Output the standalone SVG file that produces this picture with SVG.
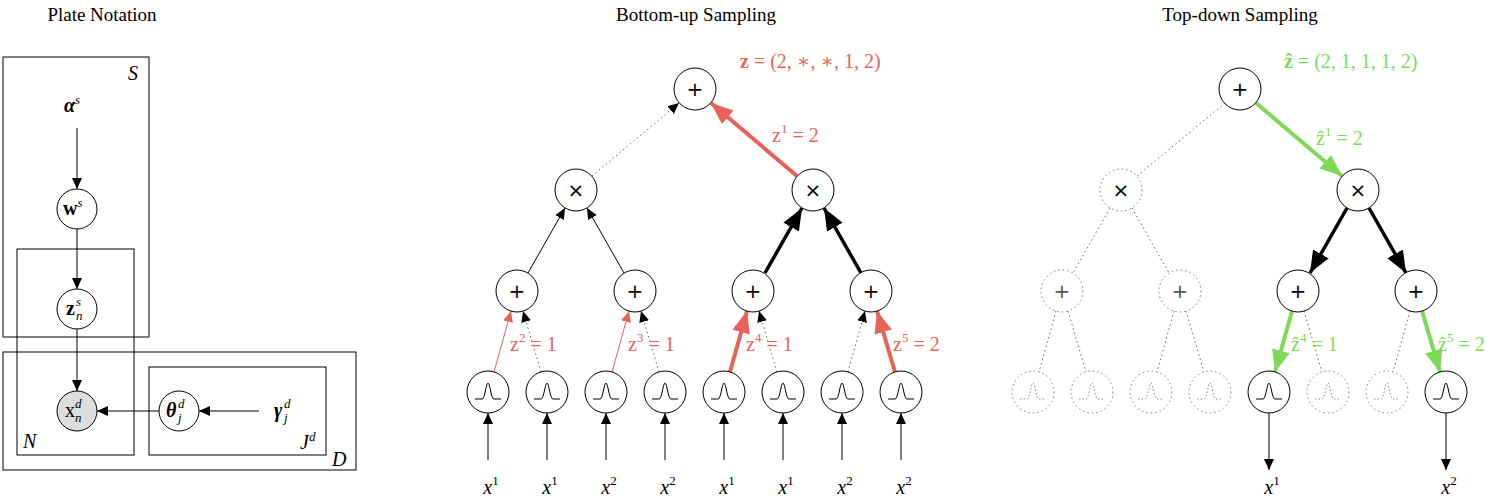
<svg xmlns="http://www.w3.org/2000/svg" width="1496" height="499" viewBox="0 0 1496 499">
<defs>
<style>
text{font-family:"Liberation Serif","DejaVu Serif",serif;font-size:20px}
.t{font-size:19px;text-anchor:middle}
.m{text-anchor:middle;font-style:italic}
.n{fill:#fff;stroke:#000;stroke-width:1}
.pl{fill:none;stroke:#000;stroke-width:1}
.e{stroke:#000;stroke-width:1;fill:none}
.d{stroke:#666;stroke-width:1;stroke-dasharray:1.5 3;fill:none}
.dn{fill:#fff;stroke:#777;stroke-width:1;stroke-dasharray:1.5 3}
.b{stroke:#000;stroke-width:3.5;fill:none}
.r{stroke:#e8625a;stroke-width:1;fill:none}
.R{stroke:#e8625a;stroke-width:4;fill:none}
.G{stroke:#7ed957;stroke-width:4;fill:none}
.red{fill:#e8625a}
.grn{fill:#7ed957}
.sym{font-family:"DejaVu Sans",sans-serif;font-size:20px;text-anchor:middle}
.s{font-size:13px}
.si{font-size:13px;font-style:italic}
</style>
<marker id="a" markerUnits="userSpaceOnUse" markerWidth="12" markerHeight="12" refX="11" refY="5" orient="auto"><path d="M0,0L11,5L0,10z" fill="#000"/></marker>
<marker id="ab" markerUnits="userSpaceOnUse" markerWidth="24" markerHeight="24" refX="22" refY="9" orient="auto"><path d="M0,0L22,9L0,18z" fill="#000"/></marker>
<marker id="ar" markerUnits="userSpaceOnUse" markerWidth="12" markerHeight="12" refX="11" refY="5" orient="auto"><path d="M0,0L11,5L0,10z" fill="#e8625a"/></marker>
<marker id="aR" markerUnits="userSpaceOnUse" markerWidth="24" markerHeight="24" refX="22" refY="9" orient="auto"><path d="M0,0L22,9L0,18z" fill="#e8625a"/></marker>
<marker id="aG" markerUnits="userSpaceOnUse" markerWidth="24" markerHeight="24" refX="22" refY="9" orient="auto"><path d="M0,0L22,9L0,18z" fill="#7ed957"/></marker>
<path id="gauss" d="M-13,7 L-6,7 C-3,7 -2,-9 0,-9 C2,-9 3,7 6,7 L13,7" fill="none" stroke="#000" stroke-width="1"/>
<path id="gaussd" d="M-13,7 L-6,7 C-3,7 -2,-9 0,-9 C2,-9 3,7 6,7 L13,7" fill="none" stroke="#888" stroke-width="1" stroke-dasharray="1.5 2"/>
</defs>

<text class="t" x="102" y="21">Plate Notation</text>
<text class="t" x="696" y="21">Bottom-up Sampling</text>
<text class="t" x="1240" y="21">Top-down Sampling</text>

<g id="plates">
<rect class="pl" x="3" y="57" width="146" height="280"/>
<rect class="pl" x="17" y="249" width="117" height="206"/>
<rect class="pl" x="3" y="352" width="353" height="118"/>
<rect class="pl" x="149" y="367" width="177" height="88"/>
<text x="128" y="80" font-style="italic">S</text>
<text x="23" y="448" font-style="italic">N</text>
<text x="332" y="466" font-style="italic">D</text>
<text x="300" y="449" font-style="italic">J<tspan class="s" dy="-8">d</tspan></text>
</g>
<g id="alpha"><text x="64" y="112" font-weight="bold" font-style="italic">α<tspan class="s" dy="-8" font-weight="normal">s</tspan></text></g>
<g id="w"><circle class="n" cx="77" cy="209" r="20"/><text x="63" y="215" font-weight="bold">w<tspan class="s" dy="-8" font-weight="normal" font-style="italic">s</tspan></text></g>
<g id="z"><circle class="n" cx="77" cy="309" r="20"/><text x="66" y="315" font-weight="bold">z</text><text class="si" x="76" y="306">s</text><text class="si" x="76" y="320">n</text></g>
<g id="x"><circle cx="77" cy="411" r="20" fill="#ddd" stroke="#000"/><text x="65" y="417">x</text><text class="si" x="75" y="408">d</text><text class="si" x="75" y="422">n</text></g>
<g id="theta"><circle class="n" cx="179" cy="411" r="20"/><text x="166" y="417" font-weight="bold" font-style="italic">θ</text><text class="si" x="178" y="408">d</text><text class="si" x="178" y="422">j</text></g>
<g id="gamma"><text x="274" y="417" font-weight="bold" font-style="italic">γ</text><text class="si" x="284" y="408">d</text><text class="si" x="284" y="422">j</text></g>
<g id="plate-edges">
<line class="e" x1="77" y1="128" x2="77" y2="189" marker-end="url(#a)"/>
<line class="e" x1="77" y1="229" x2="77" y2="289" marker-end="url(#a)"/>
<line class="e" x1="77" y1="329" x2="77" y2="391" marker-end="url(#a)"/>
<line class="e" x1="159" y1="411" x2="97" y2="411" marker-end="url(#a)"/>
<line class="e" x1="259" y1="411" x2="199" y2="411" marker-end="url(#a)"/>
</g>

<g id="bu-edges">
<line class="d" x1="592" y1="176" x2="679" y2="103" marker-end="url(#a)"/>
<line class="R" x1="797" y1="176" x2="711" y2="103" marker-end="url(#aR)"/>
<line class="e" x1="528" y1="273" x2="565" y2="208" marker-end="url(#a)"/>
<line class="e" x1="624" y1="273" x2="587" y2="208" marker-end="url(#a)"/>
<line class="b" x1="765" y1="273" x2="802" y2="208" marker-end="url(#ab)"/>
<line class="b" x1="861" y1="273" x2="824" y2="208" marker-end="url(#ab)"/>
<line class="r" x1="494" y1="372" x2="511" y2="311" marker-end="url(#ar)"/>
<line class="d" x1="541" y1="372" x2="523" y2="311" marker-end="url(#a)"/>
<line class="r" x1="612" y1="372" x2="629" y2="311" marker-end="url(#ar)"/>
<line class="d" x1="659" y1="372" x2="641" y2="311" marker-end="url(#a)"/>
<line class="R" x1="730" y1="372" x2="747" y2="311" marker-end="url(#aR)"/>
<line class="d" x1="777" y1="372" x2="759" y2="311" marker-end="url(#a)"/>
<line class="d" x1="848" y1="372" x2="865" y2="311" marker-end="url(#a)"/>
<line class="R" x1="895" y1="372" x2="877" y2="311" marker-end="url(#aR)"/>
<line class="e" x1="488" y1="460" x2="488" y2="413" marker-end="url(#a)"/>
<line class="e" x1="547" y1="460" x2="547" y2="413" marker-end="url(#a)"/>
<line class="e" x1="606" y1="460" x2="606" y2="413" marker-end="url(#a)"/>
<line class="e" x1="665" y1="460" x2="665" y2="413" marker-end="url(#a)"/>
<line class="e" x1="724" y1="460" x2="724" y2="413" marker-end="url(#a)"/>
<line class="e" x1="783" y1="460" x2="783" y2="413" marker-end="url(#a)"/>
<line class="e" x1="842" y1="460" x2="842" y2="413" marker-end="url(#a)"/>
<line class="e" x1="901" y1="460" x2="901" y2="413" marker-end="url(#a)"/>
</g>
<g id="bu-root"><circle class="n" cx="695" cy="89" r="21"/><text class="sym" x="695" y="96">+</text></g>
<g id="bu-p1"><circle class="n" cx="576" cy="190" r="21"/><text class="sym" x="576" y="197">×</text></g>
<g id="bu-p2"><circle class="n" cx="813" cy="190" r="21"/><text class="sym" x="813" y="197">×</text></g>
<g id="bu-s1"><circle class="n" cx="517" cy="291" r="21"/><text class="sym" x="517" y="298">+</text></g>
<g id="bu-s2"><circle class="n" cx="635" cy="291" r="21"/><text class="sym" x="635" y="298">+</text></g>
<g id="bu-s3"><circle class="n" cx="753" cy="291" r="21"/><text class="sym" x="753" y="298">+</text></g>
<g id="bu-s4"><circle class="n" cx="871" cy="291" r="21"/><text class="sym" x="871" y="298">+</text></g>
<g id="bu-l1"><circle class="n" cx="488" cy="392" r="21"/><use href="#gauss" x="488" y="392"/></g>
<g id="bu-l2"><circle class="n" cx="547" cy="392" r="21"/><use href="#gauss" x="547" y="392"/></g>
<g id="bu-l3"><circle class="n" cx="606" cy="392" r="21"/><use href="#gauss" x="606" y="392"/></g>
<g id="bu-l4"><circle class="n" cx="665" cy="392" r="21"/><use href="#gauss" x="665" y="392"/></g>
<g id="bu-l5"><circle class="n" cx="724" cy="392" r="21"/><use href="#gauss" x="724" y="392"/></g>
<g id="bu-l6"><circle class="n" cx="783" cy="392" r="21"/><use href="#gauss" x="783" y="392"/></g>
<g id="bu-l7"><circle class="n" cx="842" cy="392" r="21"/><use href="#gauss" x="842" y="392"/></g>
<g id="bu-l8"><circle class="n" cx="901" cy="392" r="21"/><use href="#gauss" x="901" y="392"/></g>
<g id="bu-x">
<text class="m" x="491" y="494">x<tspan class="s" dy="-9" font-style="normal">1</tspan></text>
<text class="m" x="550" y="494">x<tspan class="s" dy="-9" font-style="normal">1</tspan></text>
<text class="m" x="609" y="494">x<tspan class="s" dy="-9" font-style="normal">2</tspan></text>
<text class="m" x="668" y="494">x<tspan class="s" dy="-9" font-style="normal">2</tspan></text>
<text class="m" x="727" y="494">x<tspan class="s" dy="-9" font-style="normal">1</tspan></text>
<text class="m" x="786" y="494">x<tspan class="s" dy="-9" font-style="normal">1</tspan></text>
<text class="m" x="845" y="494">x<tspan class="s" dy="-9" font-style="normal">2</tspan></text>
<text class="m" x="904" y="494">x<tspan class="s" dy="-9" font-style="normal">2</tspan></text>
</g>
<g id="bu-labels" class="red">
<text x="740" y="68"><tspan font-weight="bold">z</tspan> = (2, ∗, ∗, 1, 2)</text>
<text x="772" y="142">z<tspan class="s" dy="-9">1</tspan><tspan dy="9"> = 2</tspan></text>
<text x="510" y="351">z<tspan class="s" dy="-9">2</tspan><tspan dy="9"> = 1</tspan></text>
<text x="628" y="351">z<tspan class="s" dy="-9">3</tspan><tspan dy="9"> = 1</tspan></text>
<text x="746" y="351">z<tspan class="s" dy="-9">4</tspan><tspan dy="9"> = 1</tspan></text>
<text x="893" y="351">z<tspan class="s" dy="-9">5</tspan><tspan dy="9"> = 2</tspan></text>
</g>

<g id="td-edges">
<line class="d" x1="1225" y1="103" x2="1137" y2="176"/>
<line class="G" x1="1256" y1="103" x2="1342" y2="176" marker-end="url(#aG)"/>
<line class="d" x1="1110" y1="208" x2="1073" y2="273"/>
<line class="d" x1="1132" y1="208" x2="1169" y2="273"/>
<line class="b" x1="1347" y1="208" x2="1310" y2="273" marker-end="url(#ab)"/>
<line class="b" x1="1369" y1="208" x2="1406" y2="273" marker-end="url(#ab)"/>
<line class="d" x1="1056" y1="311" x2="1039" y2="372"/>
<line class="d" x1="1068" y1="311" x2="1086" y2="372"/>
<line class="d" x1="1174" y1="311" x2="1157" y2="372"/>
<line class="d" x1="1186" y1="311" x2="1204" y2="372"/>
<line class="G" x1="1292" y1="311" x2="1275" y2="372" marker-end="url(#aG)"/>
<line class="d" x1="1304" y1="311" x2="1322" y2="372"/>
<line class="d" x1="1410" y1="311" x2="1393" y2="372"/>
<line class="G" x1="1422" y1="311" x2="1440" y2="372" marker-end="url(#aG)"/>
<line class="e" x1="1269" y1="413" x2="1269" y2="470" marker-end="url(#a)"/>
<line class="e" x1="1446" y1="413" x2="1446" y2="470" marker-end="url(#a)"/>
</g>
<g id="td-root"><circle class="n" cx="1240" cy="89" r="21"/><text class="sym" x="1240" y="96">+</text></g>
<g id="td-p1"><circle class="dn" cx="1121" cy="190" r="21"/><text class="sym" x="1121" y="197">×</text></g>
<g id="td-p2"><circle class="n" cx="1358" cy="190" r="21"/><text class="sym" x="1358" y="197">×</text></g>
<g id="td-s1"><circle class="dn" cx="1062" cy="291" r="21"/><text class="sym" x="1062" y="298" fill="#555">+</text></g>
<g id="td-s2"><circle class="dn" cx="1180" cy="291" r="21"/><text class="sym" x="1180" y="298" fill="#555">+</text></g>
<g id="td-s3"><circle class="n" cx="1298" cy="291" r="21"/><text class="sym" x="1298" y="298">+</text></g>
<g id="td-s4"><circle class="n" cx="1416" cy="291" r="21"/><text class="sym" x="1416" y="298">+</text></g>
<g id="td-l1"><circle class="dn" cx="1033" cy="392" r="21"/><use href="#gaussd" x="1033" y="392"/></g>
<g id="td-l2"><circle class="dn" cx="1092" cy="392" r="21"/><use href="#gaussd" x="1092" y="392"/></g>
<g id="td-l3"><circle class="dn" cx="1151" cy="392" r="21"/><use href="#gaussd" x="1151" y="392"/></g>
<g id="td-l4"><circle class="dn" cx="1210" cy="392" r="21"/><use href="#gaussd" x="1210" y="392"/></g>
<g id="td-l5"><circle class="n" cx="1269" cy="392" r="21"/><use href="#gauss" x="1269" y="392"/></g>
<g id="td-l6"><circle class="dn" cx="1328" cy="392" r="21"/><use href="#gaussd" x="1328" y="392"/></g>
<g id="td-l7"><circle class="dn" cx="1387" cy="392" r="21"/><use href="#gaussd" x="1387" y="392"/></g>
<g id="td-l8"><circle class="n" cx="1446" cy="392" r="21"/><use href="#gauss" x="1446" y="392"/></g>
<g id="td-x">
<text class="m" x="1272" y="494">x<tspan class="s" dy="-9" font-style="normal">1</tspan></text>
<text class="m" x="1449" y="494">x<tspan class="s" dy="-9" font-style="normal">2</tspan></text>
</g>
<g id="td-labels" class="grn">
<text x="1284" y="68"><tspan font-weight="bold">ẑ</tspan> = (2, 1, 1, 1, 2)</text>
<text x="1316" y="145">ẑ<tspan class="s" dy="-9">1</tspan><tspan dy="9"> = 2</tspan></text>
<text x="1291" y="351">ẑ<tspan class="s" dy="-9">4</tspan><tspan dy="9"> = 1</tspan></text>
<text x="1438" y="351">ẑ<tspan class="s" dy="-9">5</tspan><tspan dy="9"> = 2</tspan></text>
</g>
</svg>
